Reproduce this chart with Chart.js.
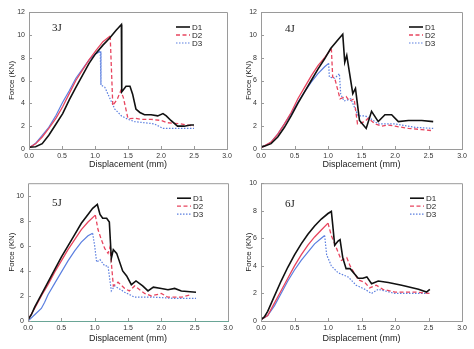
<!DOCTYPE html>
<html><head><meta charset="utf-8">
<script src="https://cdn.jsdelivr.net/npm/chart.js@4"></script>
<style>
html,body{margin:0;padding:0;background:#fff;width:474px;height:349px;overflow:hidden}
canvas{position:absolute}
</style></head>
<body>
<canvas id="c1" width="237" height="175" style="left:0;top:0"></canvas>
<canvas id="c2" width="237" height="175" style="left:237px;top:0"></canvas>
<canvas id="c3" width="237" height="174" style="left:0;top:175px"></canvas>
<canvas id="c4" width="237" height="174" style="left:237px;top:175px"></canvas>
<script>
// ---- data ----
const seriesNames = ['D1', 'D2', 'D3'];
const panelLabels = ['3J', '4J', '5J', '6J'];
const xTickStep = 0.5;
const yTickStep = 2;
const xAxisTitle = 'Displacement (mm)';
const yAxisTitle = 'Force (KN)';

// 3J
const j3_D1_x = [0, 0.1, 0.2, 0.3, 0.4, 0.51, 0.61, 0.71, 0.81, 0.91, 1.01, 1.12, 1.22, 1.32, 1.40, 1.405, 1.47, 1.53, 1.57, 1.62, 1.68, 1.75, 1.85, 1.95, 2.03, 2.08, 2.15, 2.25, 2.35, 2.45, 2.5];
const j3_D1_y = [0.15, 0.2, 0.47, 1.2, 2.1, 3.1, 4.3, 5.4, 6.45, 7.5, 8.35, 9.1, 9.7, 10.4, 10.9, 5.0, 5.5, 5.5, 4.8, 3.5, 3.2, 3.0, 3.0, 2.9, 3.1, 2.9, 2.5, 2.0, 2.0, 2.1, 2.1];
const j3_D2_x = [0, 0.1, 0.2, 0.3, 0.41, 0.51, 0.61, 0.71, 0.81, 0.91, 1.01, 1.12, 1.23, 1.27, 1.34, 1.39, 1.43, 1.5, 1.6, 1.7, 1.85, 2.0, 2.1, 2.3, 2.5];
const j3_D2_y = [0.1, 0.45, 1.05, 1.8, 2.7, 3.7, 4.85, 6.0, 6.9, 7.8, 8.6, 9.4, 9.9, 3.8, 4.4, 5.1, 4.5, 2.65, 2.7, 2.6, 2.6, 2.5, 2.3, 2.2, 2.0];
const j3_D3_x = [0, 0.1, 0.2, 0.3, 0.41, 0.51, 0.61, 0.71, 0.81, 0.91, 1.0, 1.08, 1.09, 1.15, 1.22, 1.3, 1.4, 1.5, 1.6, 1.75, 1.9, 2.03, 2.3, 2.5];
const j3_D3_y = [0.1, 0.5, 1.2, 1.9, 2.95, 4.1, 5.1, 6.2, 7.0, 7.8, 8.3, 8.55, 5.6, 5.4, 4.5, 3.5, 2.9, 2.6, 2.4, 2.3, 2.2, 1.8, 1.8, 1.8];

// 4J
const j4_D1_x = [0, 0.05, 0.15, 0.25, 0.35, 0.45, 0.55, 0.65, 0.75, 0.85, 0.95, 1.04, 1.14, 1.22, 1.25, 1.28, 1.37, 1.41, 1.47, 1.57, 1.65, 1.75, 1.85, 1.95, 2.05, 2.2, 2.4, 2.57];
const j4_D1_y = [0.18, 0.25, 0.47, 1.05, 1.9, 2.9, 4.0, 5.0, 6.0, 7.0, 7.9, 8.8, 9.5, 10.05, 7.6, 8.2, 4.85, 5.3, 2.5, 1.8, 3.3, 2.4, 3.0, 3.0, 2.4, 2.5, 2.5, 2.4];
const j4_D2_x = [0, 0.15, 0.25, 0.35, 0.45, 0.55, 0.65, 0.75, 0.85, 0.95, 1.05, 1.07, 1.1, 1.18, 1.27, 1.32, 1.39, 1.44, 1.55, 1.6, 1.7, 1.8, 1.9, 2.0, 2.2, 2.4, 2.57];
const j4_D2_y = [0.1, 0.6, 1.3, 2.2, 3.2, 4.4, 5.4, 6.4, 7.3, 8.0, 8.8, 6.3, 6.2, 4.4, 4.6, 4.2, 4.4, 2.2, 2.4, 2.7, 2.2, 2.0, 2.1, 2.0, 1.8, 1.7, 1.6];
const j4_D3_x = [0, 0.15, 0.25, 0.35, 0.45, 0.55, 0.65, 0.75, 0.85, 0.95, 1.01, 1.02, 1.1, 1.17, 1.19, 1.24, 1.34, 1.45, 1.55, 1.6, 1.75, 2.0, 2.3, 2.57];
const j4_D3_y = [0.1, 0.6, 1.3, 2.2, 3.1, 4.1, 5.0, 5.85, 6.6, 7.2, 7.5, 6.3, 6.2, 6.6, 4.8, 4.2, 4.4, 2.9, 2.9, 2.8, 2.2, 2.2, 1.9, 1.8];

// 5J
const j5_D1_x = [0, 0.05, 0.1, 0.2, 0.3, 0.4, 0.5, 0.6, 0.7, 0.8, 0.9, 0.97, 1.04, 1.08, 1.12, 1.18, 1.22, 1.25, 1.28, 1.33, 1.42, 1.48, 1.55, 1.62, 1.72, 1.8, 1.88, 2.0, 2.1, 2.2, 2.3, 2.52];
const j5_D1_y = [0.1, 0.5, 1.1, 2.1, 3.1, 4.1, 5.1, 6.0, 6.9, 7.8, 8.5, 9.0, 9.3, 8.5, 8.2, 8.2, 7.9, 5.0, 5.7, 5.4, 4.0, 3.6, 2.9, 3.2, 2.8, 2.4, 2.7, 2.6, 2.5, 2.6, 2.4, 2.3];
const j5_D2_x = [0, 0.1, 0.2, 0.3, 0.4, 0.5, 0.6, 0.7, 0.8, 0.9, 1.01, 1.05, 1.1, 1.15, 1.2, 1.23, 1.28, 1.35, 1.45, 1.52, 1.6, 1.75, 1.85, 2.0, 2.1, 2.3, 2.45];
const j5_D2_y = [0.1, 1.0, 2.0, 2.9, 3.9, 4.8, 5.7, 6.5, 7.3, 7.9, 8.45, 7.3, 6.5, 5.8, 5.4, 5.9, 2.8, 3.1, 2.6, 2.4, 2.8, 2.2, 2.0, 2.2, 1.9, 1.9, 2.1];
const j5_D3_x = [0, 0.1, 0.2, 0.25, 0.3, 0.4, 0.5, 0.6, 0.7, 0.8, 0.9, 0.97, 1.0, 1.03, 1.08, 1.15, 1.2, 1.25, 1.3, 1.45, 1.6, 1.9, 2.2, 2.52];
const j5_D3_y = [0, 0.5, 1.0, 1.5, 2.1, 3.0, 3.9, 4.8, 5.6, 6.3, 6.8, 7.0, 6.0, 4.7, 4.9, 4.4, 4.4, 2.4, 2.8, 2.3, 1.9, 1.9, 1.8, 1.8];

// 6J
const j6_D1_x = [0, 0.05, 0.1, 0.2, 0.3, 0.4, 0.5, 0.6, 0.7, 0.8, 0.9, 1.0, 1.05, 1.07, 1.1, 1.15, 1.18, 1.22, 1.27, 1.33, 1.45, 1.52, 1.58, 1.65, 1.75, 1.9, 2.1, 2.35, 2.47, 2.52];
const j6_D1_y = [0.1, 0.3, 0.7, 1.8, 2.9, 3.9, 4.8, 5.6, 6.3, 6.9, 7.4, 7.8, 7.95, 7.0, 5.5, 5.8, 5.9, 4.6, 3.8, 3.8, 3.1, 3.1, 3.2, 2.7, 2.9, 2.8, 2.6, 2.3, 2.1, 2.3];
const j6_D2_x = [0, 0.1, 0.2, 0.3, 0.4, 0.5, 0.6, 0.7, 0.8, 0.9, 1.0, 1.05, 1.1, 1.2, 1.28, 1.33, 1.45, 1.55, 1.62, 1.72, 1.82, 2.0, 2.3, 2.52];
const j6_D2_y = [0.1, 0.4, 1.3, 2.2, 3.1, 4.0, 4.8, 5.5, 6.1, 6.6, 7.1, 6.2, 5.6, 4.4, 4.6, 4.0, 3.0, 2.8, 2.4, 2.6, 2.3, 2.1, 2.1, 2.0];
const j6_D3_x = [0, 0.1, 0.2, 0.3, 0.4, 0.5, 0.6, 0.7, 0.8, 0.9, 0.95, 0.98, 1.05, 1.15, 1.3, 1.42, 1.55, 1.65, 1.75, 2.0, 2.3, 2.5];
const j6_D3_y = [0.1, 0.4, 1.1, 2.0, 2.9, 3.7, 4.4, 5.0, 5.6, 6.0, 6.2, 4.8, 4.0, 3.5, 3.2, 2.6, 2.3, 2.0, 2.3, 2.0, 2.0, 2.0];

const yMaxes = [12, 12, 11, 10];

// ---- styles ----
const seriesStyles = [
  {color: '#111111', width: 1.6, dash: []},
  {color: '#e8455f', width: 1.3, dash: [4, 2.5]},
  {color: '#5b7fe0', width: 1.2, dash: [1.5, 1.5]}
];
const panels = [
  {id: 'c1', W: 237, H: 175, left: 29, right: 227, top: 12, bottom: 149, legX: 176, labX: 57, labY: 28, axisColor: '#9a9a9a',
   xs: [j3_D1_x, j3_D2_x, j3_D3_x], ys: [j3_D1_y, j3_D2_y, j3_D3_y]},
  {id: 'c2', W: 237, H: 175, left: 24, right: 225, top: 12, bottom: 149, legX: 172, labX: 53, labY: 29, axisColor: '#9a9a9a',
   xs: [j4_D1_x, j4_D2_x, j4_D3_x], ys: [j4_D1_y, j4_D2_y, j4_D3_y]},
  {id: 'c3', W: 237, H: 174, left: 28, right: 228, top: 7, bottom: 146, legX: 177, labX: 57, labY: 28, axisColor: '#9a9a9a', bottomColor: '#6aa596',
   xs: [j5_D1_x, j5_D2_x, j5_D3_x], ys: [j5_D1_y, j5_D2_y, j5_D3_y]},
  {id: 'c4', W: 237, H: 174, left: 24, right: 225, top: 7, bottom: 146, legX: 173, labX: 53, labY: 29, axisColor: '#9a9a9a',
   xs: [j6_D1_x, j6_D2_x, j6_D3_x], ys: [j6_D1_y, j6_D2_y, j6_D3_y]}
];

const SANS = '"Liberation Sans", Arial, sans-serif';
const SERIF = '"Liberation Serif", "Times New Roman", serif';

const framePlugin = {
  id: 'frame',
  afterDraw(chart, args, opts) {
    const {ctx, chartArea: a, scales} = chart;
    ctx.save();
    ctx.lineWidth = 1;
    ctx.strokeStyle = opts.axisColor;
    ctx.beginPath();
    ctx.moveTo(a.left + 0.5, a.bottom + 0.5);
    ctx.lineTo(a.left + 0.5, a.top + 0.5);
    ctx.lineTo(a.right + 0.5, a.top + 0.5);
    ctx.lineTo(a.right + 0.5, a.bottom + 0.5);
    ctx.stroke();
    ctx.strokeStyle = opts.bottomColor || opts.axisColor;
    ctx.beginPath();
    ctx.moveTo(a.left, a.bottom + 0.5);
    ctx.lineTo(a.right + 1, a.bottom + 0.5);
    ctx.stroke();
    // inward tick marks
    ctx.strokeStyle = opts.axisColor;
    ctx.beginPath();
    scales.x.ticks.forEach(t => {
      const px = Math.round(scales.x.getPixelForValue(t.value)) + 0.5;
      ctx.moveTo(px, a.bottom); ctx.lineTo(px, a.bottom - 3);
    });
    scales.y.ticks.forEach(t => {
      const py = Math.round(scales.y.getPixelForValue(t.value)) + 0.5;
      ctx.moveTo(a.left, py); ctx.lineTo(a.left + 3, py);
    });
    ctx.stroke();
    // legend
    chart.data.datasets.forEach((ds, i) => {
      const y = a.top + 15 + i * 8;
      ctx.strokeStyle = ds.borderColor;
      ctx.lineWidth = ds.borderWidth;
      ctx.setLineDash(ds.legendDash);
      ctx.beginPath();
      ctx.moveTo(opts.legX, y); ctx.lineTo(opts.legX + 14, y);
      ctx.stroke();
      ctx.setLineDash([]);
      ctx.fillStyle = '#222';
      ctx.font = '8px ' + SANS;
      ctx.textAlign = 'left';
      ctx.textBaseline = 'middle';
      ctx.fillText(ds.label, opts.legX + 16, y + 0.5);
    });
    // panel label
    ctx.fillStyle = '#222';
    ctx.font = '11px ' + SERIF;
    ctx.textAlign = 'center';
    ctx.textBaseline = 'middle';
    ctx.fillText(opts.label, opts.labX, opts.labY);
    ctx.restore();
  }
};

panels.forEach((p, pi) => {
  const datasets = seriesNames.map((name, si) => {
    const xs = p.xs[si], ys = p.ys[si];
    const pts = xs.map((x, k) => ({x: x, y: ys[k]}));
    const peak = ys.indexOf(Math.max(...ys));
    const st = seriesStyles[si];
    return {
      label: name,
      data: pts,
      borderColor: st.color,
      borderWidth: st.width,
      borderDash: [],
      legendDash: st.dash,
      pointRadius: 0,
      fill: false,
      tension: 0,
      segment: {
        borderDash: c => (c.p0DataIndex >= peak && st.dash.length) ? st.dash : undefined
      }
    };
  });
  new Chart(document.getElementById(p.id).getContext('2d'), {
    type: 'line',
    data: {datasets},
    options: {
      responsive: false,
      animation: false,
      devicePixelRatio: 1,
      layout: {padding: {top: p.top, right: p.W - p.right, left: 0, bottom: 0}},
      plugins: {
        legend: {display: false},
        tooltip: {enabled: false},
        frame: {axisColor: p.axisColor, bottomColor: p.bottomColor, legX: p.legX, label: panelLabels[pi], labX: p.labX, labY: p.labY}
      },
      scales: {
        x: {
          type: 'linear', min: 0, max: 3,
          ticks: {stepSize: xTickStep, callback: v => Number(v).toFixed(1), font: {size: 7, family: SANS}, color: '#333', padding: 3, maxRotation: 0, autoSkip: false},
          grid: {display: false, drawTicks: false},
          border: {display: false},
          title: {display: true, text: xAxisTitle, font: {size: 9, family: SANS}, color: '#222', padding: {top: 0, bottom: 5}},
          afterFit: s => { s.height = p.H - p.bottom; }
        },
        y: {
          type: 'linear', min: 0, max: yMaxes[pi],
          ticks: {stepSize: yTickStep, callback: v => String(v), font: {size: 7, family: SANS}, color: '#333', padding: 4, autoSkip: false},
          afterBuildTicks: s => { s.ticks = s.ticks.filter(t => t.value % yTickStep === 0); },
          grid: {display: false, drawTicks: false},
          border: {display: false},
          title: {display: true, text: yAxisTitle, font: {size: 8, family: SANS}, color: '#222', padding: {top: 7, bottom: 0}},
          afterFit: s => { s.width = p.left; }
        }
      }
    },
    plugins: [framePlugin]
  });
});
</script>
</body></html>
